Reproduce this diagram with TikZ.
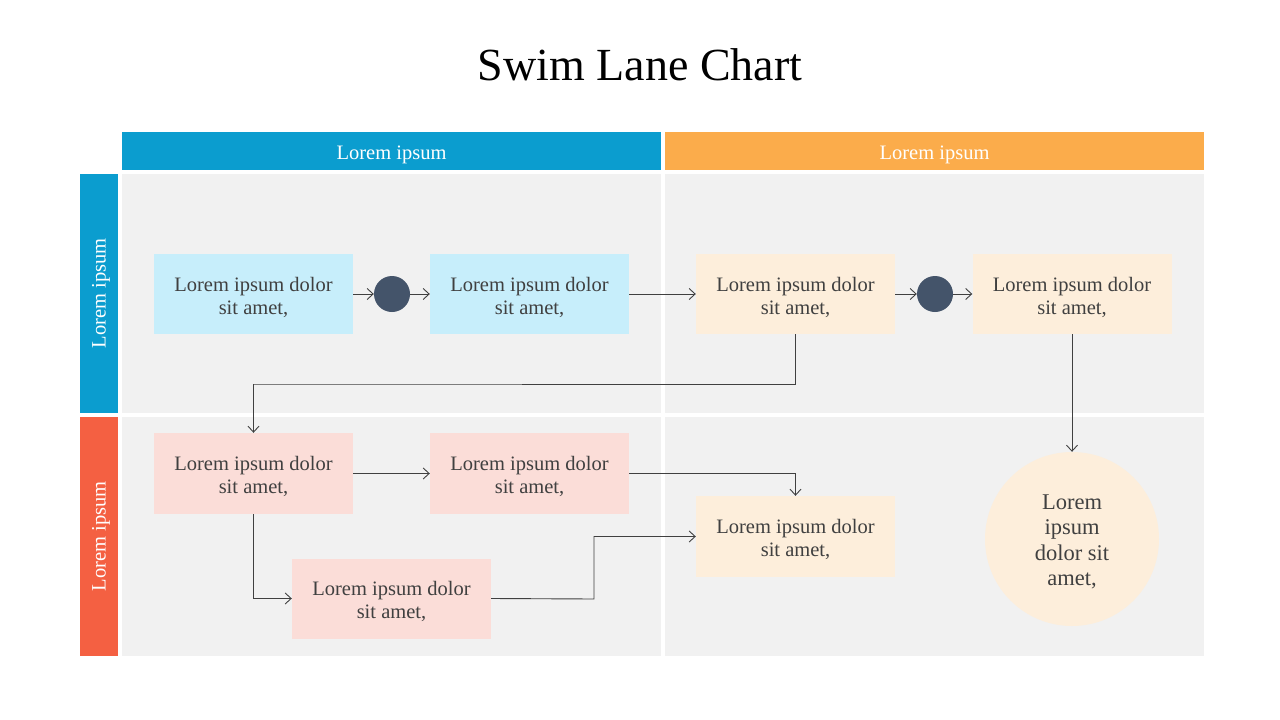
\documentclass[tikz,border=0pt]{standalone}
\usepackage{fontspec}
\setmainfont{Liberation Serif}
\usetikzlibrary{arrows.meta}
\definecolor{hblue}{HTML}{0B9DCF}
\definecolor{horange}{HTML}{FBAC4B}
\definecolor{hred}{HTML}{F46042}
\definecolor{bblue}{HTML}{C7EEFB}
\definecolor{borange}{HTML}{FDEEDB}
\definecolor{bpink}{HTML}{FBDDD8}
\definecolor{dotc}{HTML}{44546A}
\definecolor{txt}{HTML}{404040}
\definecolor{panel}{HTML}{F1F1F1}
\tikzset{
  procbox/.style={rectangle, minimum width=199pt, minimum height=80pt, inner sep=0pt},
  boxlabel/.style={align=center, text=txt, inner sep=0pt, yshift=-3pt, font=\fontsize{20.5}{23}\selectfont},
  circlabel/.style={align=center, text=txt, inner sep=0pt, yshift=-3pt, font=\fontsize{22.5}{25.5}\selectfont},
  dotnode/.style={circle, fill=dotc, minimum size=36pt, inner sep=0pt},
  conn/.style={draw=txt, line width=0.9pt, -{Straight Barb[length=6pt,width=11pt]}},
  hdrtxt/.style={inner sep=0pt, text=white, font=\fontsize{20.5}{24}\selectfont},
  lanetxt/.style={text=white, rotate=90, font=\fontsize{20.5}{24}\selectfont},
}
\begin{document}
\begin{tikzpicture}[x=1pt,y=-1pt]
\useasboundingbox (0,0) rectangle (1280,720);
\fill[white] (0,0) rectangle (1280,720);
\node[text=black, font=\fontsize{46}{52}\selectfont] (title) at (640,65) {Swim Lane Chart};
% headers
\fill[hblue] (122,132) rectangle (661,170);
\fill[horange] (665,132) rectangle (1204,170);
\node[hdrtxt] (h1) at (391.5,154.5) {Lorem ipsum};
\node[hdrtxt] (h2) at (934.5,154.5) {Lorem ipsum};
\fill[hblue] (80,174) rectangle (118,413);
\fill[hred] (80,417) rectangle (118,656);
\node[lanetxt] (l1t) at (101,293.5) {Lorem ipsum};
\node[lanetxt] (l2t) at (101,536.5) {Lorem ipsum};
% panels
\fill[panel] (122,174) rectangle (661,413);
\fill[panel] (665,174) rectangle (1204,413);
\fill[panel] (122,417) rectangle (661,656);
\fill[panel] (665,417) rectangle (1204,656);
% boxes
\node[procbox, fill=bblue, label={[boxlabel]center:{Lorem ipsum dolor\\sit amet,}}] (b1) at (253.5,294) {};
\node[procbox, fill=bblue, label={[boxlabel]center:{Lorem ipsum dolor\\sit amet,}}] (b2) at (529.5,294) {};
\node[procbox, fill=borange, label={[boxlabel]center:{Lorem ipsum dolor\\sit amet,}}] (b3) at (795.5,294) {};
\node[procbox, fill=borange, label={[boxlabel]center:{Lorem ipsum dolor\\sit amet,}}] (b4) at (1072,294) {};
\node[dotnode] (d1) at (392,294) {};
\node[dotnode] (d2) at (935,294) {};
\node[procbox, fill=bpink, minimum height=81pt, label={[boxlabel]center:{Lorem ipsum dolor\\sit amet,}}] (b5) at (253.5,473.5) {};
\node[procbox, fill=bpink, minimum height=81pt, label={[boxlabel]center:{Lorem ipsum dolor\\sit amet,}}] (b6) at (529.5,473.5) {};
\node[procbox, fill=bpink, label={[boxlabel]center:{Lorem ipsum dolor\\sit amet,}}] (b7) at (391.5,598.5) {};
\node[procbox, fill=borange, minimum height=81pt, label={[boxlabel]center:{Lorem ipsum dolor\\sit amet,}}] (b8) at (795.5,536.5) {};
\node[circle, fill=borange, minimum size=174pt, inner sep=0pt, label={[circlabel]center:{Lorem\\ipsum\\dolor sit\\amet,}}] (c1) at (1072,539) {};
% connectors
\draw[conn] (b1) -- (d1);
\draw[conn] (d1) -- (b2);
\draw[conn] (b2) -- (b3);
\draw[conn] (b3) -- (d2);
\draw[conn] (d2) -- (b4);
\draw[conn] (b3.south) |- (254,384) -| (b5.north);
\draw[conn] (b4.south) -- (c1.north);
\draw[conn] (b5) -- (b6);
\draw[conn] (b6.east) -| (b8.north);
\draw[conn] (b5.south) |- (b7.west);
\draw[conn] (b7.east) -- (594,599) |- (b8.west);
\end{tikzpicture}
\end{document}
